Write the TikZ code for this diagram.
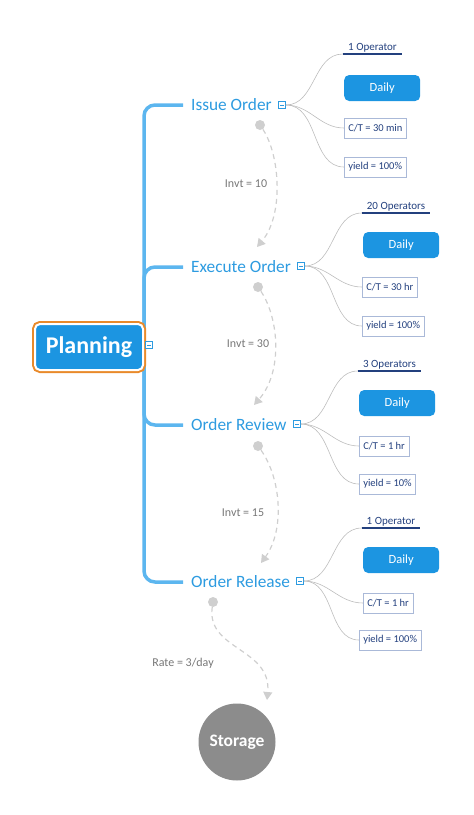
\documentclass[tikz,border=0pt]{standalone}
\usepackage{fontspec}
\setmainfont{Carlito}
\usetikzlibrary{arrows.meta}
\definecolor{trunkblue}{HTML}{5CB6EF}
\definecolor{topicblue}{HTML}{2D9BE0}
\definecolor{dailyblue}{HTML}{1C95E1}
\definecolor{navytext}{HTML}{23407E}
\definecolor{boxline}{HTML}{AAB9D8}
\definecolor{rootorange}{HTML}{E98A2A}
\definecolor{linkgray}{HTML}{BDBDBD}
\definecolor{flowgray}{HTML}{CFCFCF}
\definecolor{labelgray}{HTML}{777777}

\begin{document}
\begin{tikzpicture}[x=1pt,y=-1pt,
    trunk/.style={trunkblue,line width=3.5pt,rounded corners=11pt},
    topic/.style={anchor=west,text=topicblue,inner sep=1pt,font=\fontsize{17.3}{20}\selectfont},
    fold/.style={draw=topicblue,fill=white,line width=0.6pt,minimum size=7pt,inner sep=0pt,
      path picture={\draw[topicblue,line width=0.6pt]([xshift=1.5pt]path picture bounding box.west)
        --([xshift=-1.5pt]path picture bounding box.east);}},
    oper/.style={anchor=south,text=navytext,inner sep=2pt,font=\fontsize{11}{13}\selectfont},
    underl/.style={navytext,line width=1.3pt},
    daily/.style={anchor=west,fill=dailyblue,text=white,rounded corners=5pt,minimum width=76pt,
      minimum height=26pt,font=\fontsize{12.5}{15}\selectfont},
    attr/.style={anchor=west,draw=boxline,text=navytext,inner xsep=4pt,minimum height=20pt,
      line width=0.6pt,font=\fontsize{10.5}{12}\selectfont},
    link/.style={linkgray,line width=0.6pt},
    flow/.style={flowgray,line width=1.2pt,dash pattern=on 5pt off 4pt,
      -{Triangle[width=9pt,length=8pt]}},
    dot/.style={circle,fill=flowgray,minimum size=10pt,inner sep=0pt},
    flowlbl/.style={text=labelgray,font=\fontsize{12}{14}\selectfont}]
  \useasboundingbox(0,0)rectangle(474,815);

  % trunk and branches
  \coordinate(root)at(144,347);
  \draw[trunk](root)|-(183,105);
  \draw[trunk](root)|-(183,267);
  \draw[trunk](root)|-(183,425);
  \draw[trunk](root)|-(183,582);

  \node[fill=dailyblue,draw=white,line width=2pt,rounded corners=5pt,minimum width=108pt,
    minimum height=46pt,text=white,font=\bfseries\fontsize{24}{28}\selectfont,
    preaction={draw=rootorange,line width=6pt}](plan)at(89,347){Planning};
  \node[fold](f0)at(149,345){};

  % Issue Order
  \node[topic](issue)at(190,105){Issue Order};
  \node[fold](f1)at(282,105){};
  \node[oper,minimum width=59pt](op1)at(372.5,54){1 Operator};
  \draw[underl](op1.south west)--(op1.south east);
  \node[daily](dy1)at(344,88){Daily};
  \node[attr](ct1)at(344,128){C/T = 30 min};
  \node[attr](yd1)at(344,167){yield = 100\%};
  \draw[link](f1.east)to[out=0,in=180](op1.south west);
  \draw[link](f1.east)to[out=0,in=180](ct1.west);
  \draw[link](f1.east)to[out=0,in=180](yd1.west);

  % Execute Order
  \node[topic](exec)at(190,267){Execute Order};
  \node[fold](f2)at(301,266){};
  \node[oper,minimum width=68pt](op2)at(396,213){20 Operators};
  \draw[underl](op2.south west)--(op2.south east);
  \node[daily](dy2)at(363,245){Daily};
  \node[attr](ct2)at(362,287){C/T = 30 hr};
  \node[attr](yd2)at(362,326){yield = 100\%};
  \draw[link](f2.east)to[out=0,in=180](op2.south west);
  \draw[link](f2.east)to[out=0,in=180](ct2.west);
  \draw[link](f2.east)to[out=0,in=180](yd2.west);

  % Order Review
  \node[topic](review)at(190,425){Order Review};
  \node[fold](f3)at(297,424){};
  \node[oper,minimum width=63pt](op3)at(389.5,371){3 Operators};
  \draw[underl](op3.south west)--(op3.south east);
  \node[daily](dy3)at(359,403){Daily};
  \node[attr](ct3)at(359,446){C/T = 1 hr};
  \node[attr](yd3)at(359,484){yield = 10\%};
  \draw[link](f3.east)to[out=0,in=180](op3.south west);
  \draw[link](f3.east)to[out=0,in=180](ct3.west);
  \draw[link](f3.east)to[out=0,in=180](yd3.west);

  % Order Release
  \node[topic](release)at(190,582){Order Release};
  \node[fold](f4)at(300,581){};
  \node[oper,minimum width=58pt](op4)at(391,528){1 Operator};
  \draw[underl](op4.south west)--(op4.south east);
  \node[daily](dy4)at(363,560){Daily};
  \node[attr](ct4)at(363,603){C/T = 1 hr};
  \node[attr](yd4)at(359,640){yield = 100\%};
  \draw[link](f4.east)to[out=0,in=180](op4.south west);
  \draw[link](f4.east)to[out=0,in=180](ct4.west);
  \draw[link](f4.east)to[out=0,in=180](yd4.west);

  % flow between steps
  \node[dot](p1)at(260,125){};
  \coordinate(t1)at(257,247);
  \draw[flow](p1)..controls(280,155)and(284,215)..(t1);
  \node[flowlbl](l1)at(246,184){Invt = 10};

  \node[dot](p2)at(258,287){};
  \coordinate(t2)at(254,405);
  \draw[flow](p2)..controls(279,318)and(283,372)..(t2);
  \node[flowlbl](l2)at(248,344){Invt = 30};

  \node[dot](p3)at(258,446){};
  \coordinate(t3)at(261,563);
  \draw[flow](p3)..controls(281,478)and(285,530)..(t3);
  \node[flowlbl](l3)at(243,513){Invt = 15};

  \node[dot](p4)at(213,602){};
  \node[circle,fill=gray!90,minimum size=77pt,text=white,
    font=\bfseries\fontsize{17.5}{20}\selectfont](store)at(237,742){Storage};
  \coordinate(t4)at(267,700);
  \draw[flow](p4)..controls(206,650)and(272,648)..(t4);
  \node[flowlbl](l4)at(183,663){Rate = 3/day};
\end{tikzpicture}
\end{document}
